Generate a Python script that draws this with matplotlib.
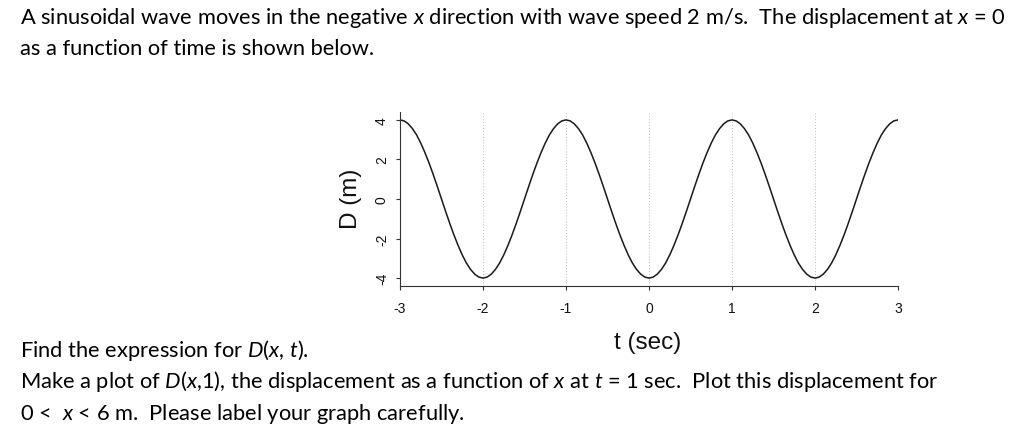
import matplotlib
matplotlib.use("Agg")
import matplotlib.pyplot as plt

# ---- data ----
t_sec = [-3.00, -2.95, -2.90, -2.85, -2.80, -2.75, -2.70, -2.65, -2.60, -2.55,
         -2.50, -2.45, -2.40, -2.35, -2.30, -2.25, -2.20, -2.15, -2.10, -2.05,
         -2.00, -1.95, -1.90, -1.85, -1.80, -1.75, -1.70, -1.65, -1.60, -1.55,
         -1.50, -1.45, -1.40, -1.35, -1.30, -1.25, -1.20, -1.15, -1.10, -1.05,
         -1.00, -0.95, -0.90, -0.85, -0.80, -0.75, -0.70, -0.65, -0.60, -0.55,
         -0.50, -0.45, -0.40, -0.35, -0.30, -0.25, -0.20, -0.15, -0.10, -0.05,
         0.00, 0.05, 0.10, 0.15, 0.20, 0.25, 0.30, 0.35, 0.40, 0.45,
         0.50, 0.55, 0.60, 0.65, 0.70, 0.75, 0.80, 0.85, 0.90, 0.95,
         1.00, 1.05, 1.10, 1.15, 1.20, 1.25, 1.30, 1.35, 1.40, 1.45,
         1.50, 1.55, 1.60, 1.65, 1.70, 1.75, 1.80, 1.85, 1.90, 1.95,
         2.00, 2.05, 2.10, 2.15, 2.20, 2.25, 2.30, 2.35, 2.40, 2.45,
         2.50, 2.55, 2.60, 2.65, 2.70, 2.75, 2.80, 2.85, 2.90, 2.95, 3.00]
D_m = [4.00, 3.95, 3.80, 3.56, 3.24, 2.83, 2.35, 1.82, 1.24, 0.63,
       0.00, -0.63, -1.24, -1.82, -2.35, -2.83, -3.24, -3.56, -3.80, -3.95,
       -4.00, -3.95, -3.80, -3.56, -3.24, -2.83, -2.35, -1.82, -1.24, -0.63,
       0.00, 0.63, 1.24, 1.82, 2.35, 2.83, 3.24, 3.56, 3.80, 3.95,
       4.00, 3.95, 3.80, 3.56, 3.24, 2.83, 2.35, 1.82, 1.24, 0.63,
       0.00, -0.63, -1.24, -1.82, -2.35, -2.83, -3.24, -3.56, -3.80, -3.95,
       -4.00, -3.95, -3.80, -3.56, -3.24, -2.83, -2.35, -1.82, -1.24, -0.63,
       0.00, 0.63, 1.24, 1.82, 2.35, 2.83, 3.24, 3.56, 3.80, 3.95,
       4.00, 3.95, 3.80, 3.56, 3.24, 2.83, 2.35, 1.82, 1.24, 0.63,
       0.00, -0.63, -1.24, -1.82, -2.35, -2.83, -3.24, -3.56, -3.80, -3.95,
       -4.00, -3.95, -3.80, -3.56, -3.24, -2.83, -2.35, -1.82, -1.24, -0.63,
       0.00, 0.63, 1.24, 1.82, 2.35, 2.83, 3.24, 3.56, 3.80, 3.95, 4.00]
x_ticks = [-3, -2, -1, 0, 1, 2, 3]
x_ticklabels = ["-3", "-2", "-1", "0", "1", "2", "3"]
y_ticks = [-4, -2, 0, 2, 4]
y_ticklabels = ["-4", "-2", "0", "2", "4"]

line1 = r"A sinusoidal wave moves in the negative $\mathit{x}$ direction with wave speed 2 m/s.  The displacement at $\mathit{x}$ = 0"
line2 = "as a function of time is shown below."
line3 = r"Find the expression for $\mathit{D(x{,}\ t).}$"
line4 = r"Make a plot of $\mathit{D(x{,}1){,}}$ the displacement as a function of $\mathit{x}$ at $\mathit{t}$ = 1 sec.  Plot this displacement for"
line5 = r"0 <  $\mathit{x}$ < 6 m.  Please label your graph carefully."

plt.rcParams["mathtext.fontset"] = "custom"
plt.rcParams["mathtext.rm"] = "Lato"
plt.rcParams["mathtext.it"] = "Lato:italic"
plt.rcParams["mathtext.bf"] = "Lato:bold"

W, H = 1024, 435
fig = plt.figure(figsize=(W / 100, H / 100), dpi=100)
fig.patch.set_facecolor("white")

def fx(px):
    return px / W

def fy(py):
    return 1 - py / H

# ---- plot ----
ax = fig.add_axes([fx(400), fy(287), (898 - 400) / W, (287 - 113) / H])
ax.plot(t_sec, D_m, color="#1a1a1a", lw=1.1)
ax.set_xlim(-3, 3)
ax.set_ylim(-4.4, 4.4)
ax.set_xticks(x_ticks)
ax.set_xticklabels(x_ticklabels)
ax.set_yticks(y_ticks)
ax.set_yticklabels(y_ticklabels, rotation=90, va="center")
for s in ["top", "right"]:
    ax.spines[s].set_visible(False)
for s in ["left", "bottom"]:
    ax.spines[s].set_linewidth(0.8)
    ax.spines[s].set_color("#333333")
ax.xaxis.grid(True, linestyle=(0, (1, 2)), color="#bbbbbb", linewidth=0.7)
ax.yaxis.grid(False)
ax.set_axisbelow(True)
ax.tick_params(axis="x", length=3, width=0.8, color="#333333", pad=7.5,
               labelsize=10, labelcolor="#111111")
ax.tick_params(axis="y", length=3, width=0.8, color="#333333", pad=5,
               labelsize=10, labelcolor="#111111")
for lab in ax.get_xticklabels() + ax.get_yticklabels():
    lab.set_family("Liberation Sans")

fig.text(fx(351), fy(199), "D (m)", rotation=90, ha="center", va="center",
         fontsize=17.5, family="Liberation Sans", color="#111111")
fig.text(fx(648), fy(343), "t (sec)", ha="center", va="center",
         fontsize=17.5, family="Liberation Sans", color="#111111")

# ---- question text ----
base = 14
texts = []
for s, yb in [(line1, 24), (line2, 55), (line3, 357), (line4, 388), (line5, 420)]:
    texts.append(fig.text(fx(20), fy(yb), s, ha="left", va="baseline",
                          fontsize=base, family="Lato", color="black"))
fig.canvas.draw()
r = fig.canvas.get_renderer()
w1 = texts[0].get_window_extent(r).width
w4 = texts[3].get_window_extent(r).width
new = base * 0.5 * (985 / w1 + 924 / w4)
for t in texts:
    t.set_fontsize(new)

fig.savefig("out.png", dpi=100, facecolor="white")
